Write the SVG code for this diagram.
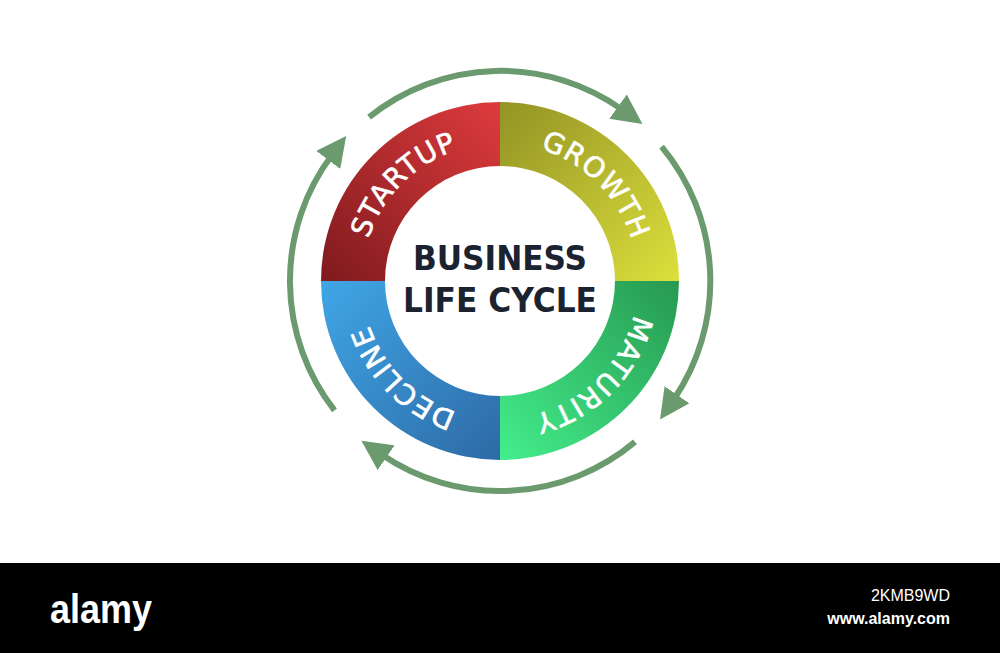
<svg xmlns="http://www.w3.org/2000/svg" xmlns:xlink="http://www.w3.org/1999/xlink" width="1000" height="653" viewBox="0 0 1000 653">
<style>
.seg-label{font-family:"DejaVu Sans",sans-serif;font-size:28px;font-weight:500;fill:#fff;letter-spacing:1px;stroke:#fff;stroke-width:0.6}
.title{font-family:"DejaVu Sans Condensed","DejaVu Sans",sans-serif;font-size:33px;font-weight:bold;fill:#1b2230;text-anchor:middle}
.arc{fill:none;stroke:#6a9a6e;stroke-width:6}
</style>
<defs>
<linearGradient id="gR" x1="0" y1="1" x2="1" y2="0"><stop offset="0" stop-color="#7f1a1d"/><stop offset="1" stop-color="#de3b3d"/></linearGradient>
<linearGradient id="gY" x1="0" y1="0" x2="1" y2="1"><stop offset="0" stop-color="#939325"/><stop offset="1" stop-color="#dce03b"/></linearGradient>
<linearGradient id="gG" x1="1" y1="0" x2="0" y2="1"><stop offset="0" stop-color="#279950"/><stop offset="1" stop-color="#43ee8c"/></linearGradient>
<linearGradient id="gB" x1="0" y1="0" x2="1" y2="1"><stop offset="0" stop-color="#40a6e6"/><stop offset="1" stop-color="#2d6aa6"/></linearGradient>
<marker id="ah" viewBox="0 0 10 10" refX="2" refY="5" markerWidth="5" markerHeight="5" orient="auto" markerUnits="strokeWidth"><path d="M0,0 L10,5 L0,10 z" fill="#6a9a6e"/></marker>
<path id="tp" d="M 362 281 A 138 138 0 1 1 638 281 A 138 138 0 1 1 362 281"/>
</defs>
<rect width="1000" height="653" fill="#fff"/>
<g id="startup">
<path d="M321 281 A179 179 0 0 1 500 102 L500 166 A115 115 0 0 0 385 281 Z" fill="url(#gR)"/>
<text class="seg-label" text-anchor="middle"><textPath href="#tp" xlink:href="#tp" startOffset="12.5%">STARTUP</textPath></text>
</g>
<g id="growth">
<path d="M500 102 A179 179 0 0 1 679 281 L615 281 A115 115 0 0 0 500 166 Z" fill="url(#gY)"/>
<text class="seg-label" text-anchor="middle"><textPath href="#tp" xlink:href="#tp" startOffset="37.5%">GROWTH</textPath></text>
</g>
<g id="maturity">
<path d="M679 281 A179 179 0 0 1 500 460 L500 396 A115 115 0 0 0 615 281 Z" fill="url(#gG)"/>
<text class="seg-label" text-anchor="middle"><textPath href="#tp" xlink:href="#tp" startOffset="62.5%">MATURITY</textPath></text>
</g>
<g id="decline">
<path d="M500 460 A179 179 0 0 1 321 281 L385 281 A115 115 0 0 0 500 396 Z" fill="url(#gB)"/>
<text class="seg-label" text-anchor="middle"><textPath href="#tp" xlink:href="#tp" startOffset="87.5%">DECLINE</textPath></text>
</g>
<g id="center">
<text class="title" x="500" y="270" textLength="174" lengthAdjust="spacingAndGlyphs">BUSINESS</text>
<text class="title" x="500" y="312" textLength="194" lengthAdjust="spacingAndGlyphs">LIFE CYCLE</text>
</g>
<g id="connectors">
<path class="arc" marker-end="url(#ah)" d="M369.1 117.1 A210 210 0 0 1 622.9 110.1"/>
<path class="arc" marker-end="url(#ah)" d="M661.6 146.6 A210 210 0 0 1 673.6 399.7"/>
<path class="arc" marker-end="url(#ah)" d="M635 441.9 A210 210 0 0 1 381.2 454.3"/>
<path class="arc" marker-end="url(#ah)" d="M334.5 410.3 A210 210 0 0 1 331.8 155.2"/>
</g>
<g id="watermark">
<rect x="0" y="563" width="1000" height="90" fill="#000"/>
<text x="50" y="623" font-family="Liberation Sans,sans-serif" font-size="40" font-weight="bold" fill="#fff" textLength="102" lengthAdjust="spacingAndGlyphs">alamy</text>
<text x="950" y="601" font-family="Liberation Sans,sans-serif" font-size="16" fill="#fff" text-anchor="end">2KMB9WD</text>
<text x="950" y="624" font-family="Liberation Sans,sans-serif" font-size="16" font-weight="bold" fill="#fff" text-anchor="end">www.alamy.com</text>
</g>
</svg>
